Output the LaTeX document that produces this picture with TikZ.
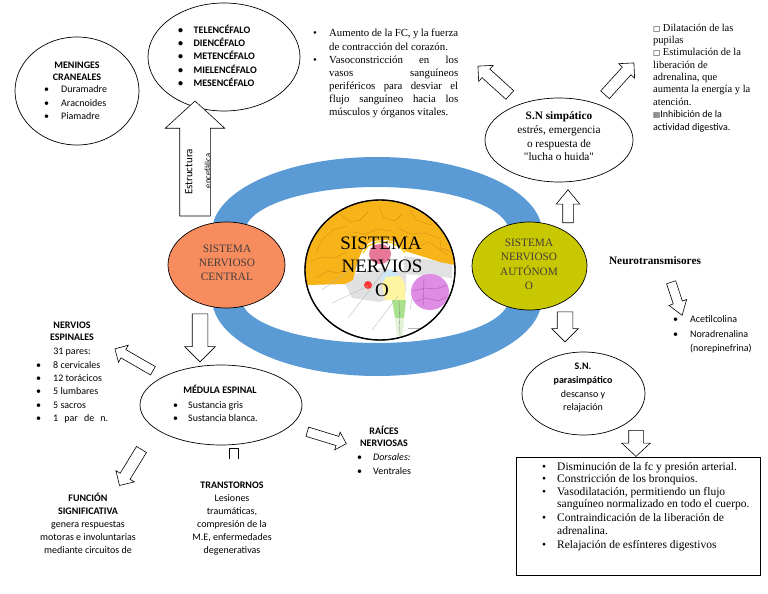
\documentclass[tikz,border=0pt]{standalone}
\usepackage{fontspec}
\setmainfont{Liberation Serif}
\newfontfamily\carl{Carlito}
\newfontfamily\dejav{DejaVu Sans}
\newfontfamily\serq{Liberation Serif}[Ligatures=TeXOff]
\usetikzlibrary{shapes.geometric,shapes.arrows}
\definecolor{ringblue}{RGB}{91,155,213}
\definecolor{sncfill}{RGB}{247,140,95}
\definecolor{snafill}{RGB}{200,200,0}
\definecolor{brainor}{RGB}{247,180,25}
\definecolor{sulc}{RGB}{222,140,20}
\definecolor{cereb}{RGB}{222,140,228}
\definecolor{cerebdk}{RGB}{170,80,180}
\definecolor{thal}{RGB}{232,118,150}
\definecolor{ovaltext}{RGB}{70,60,60}
\definecolor{palegray}{RGB}{225,225,225}
\definecolor{paleblue}{RGB}{205,230,248}
\definecolor{paleyellow}{RGB}{255,245,160}
\definecolor{medgreen}{RGB}{170,225,140}
\definecolor{palegreen}{RGB}{225,242,215}
\newcommand\sqb[1]{{\dejav\fontsize{7.5}{8}\selectfont #1}}
\begin{document}
\begin{tikzpicture}[x=1pt,y=-1pt,
 oval/.style={ellipse,draw,line width=0.7pt,fill=white,inner sep=0pt},
 bar/.style n args={6}{single arrow,draw,fill=white,line width=0.6pt,inner xsep=0pt,inner ysep=#3pt,single arrow head indent=0pt,minimum height=#1pt,minimum width=#2pt,single arrow head extend=#4pt,single arrow tip angle=#5,rotate=#6},
 sans/.style={font=\carl\fontsize{10}{12}\selectfont,inner sep=0pt},
 sansb/.style={font=\carl\bfseries\fontsize{10}{12}\selectfont,inner sep=0pt},
 ser/.style={font=\fontsize{10.8}{13}\selectfont,inner sep=0pt},
 sers/.style={font=\fontsize{10.5}{12}\selectfont,inner sep=0pt},
 serm/.style={font=\fontsize{11.3}{13}\selectfont,inner sep=0pt},
 sermb/.style={font=\bfseries\fontsize{11.3}{13}\selectfont,inner sep=0pt},
 serbox/.style={font=\fontsize{11.5}{13}\selectfont,inner sep=0pt},
 big/.style={font=\fontsize{19}{23}\selectfont,inner sep=0pt},
 sulcus/.style={sulc,line width=0.4pt},
 leader/.style={gray!60,line width=0.3pt},
]
\fill[white] (0,0) rectangle (768,594);
\useasboundingbox (0,0) rectangle (768,594);

% ---- blue ring ----
\fill[ringblue] (212,232) .. controls (212,190.6) and (285.9,157) .. (377,157)
  .. controls (468.1,157) and (542,190.6) .. (542,232) -- (509,232)
  .. controls (509,207.1) and (449.9,187) .. (377,187)
  .. controls (304.1,187) and (245,207.1) .. (245,232) -- cycle;
\fill[ringblue] (212,298) .. controls (212,341.1) and (285.9,376) .. (377,376)
  .. controls (468.1,376) and (542,341.1) .. (542,298) -- (509,298)
  .. controls (509,322.9) and (452.1,343) .. (377,343)
  .. controls (301.9,343) and (241,322.9) .. (241,298) -- cycle;

% ---- ovals ----
\node[oval,minimum width=124pt,minimum height=108pt] (men) at (77,91) {};
\node[oval,minimum width=152pt,minimum height=108pt] (enc) at (224,57) {};
\node[oval,minimum width=148pt,minimum height=84pt] (simp) at (559,140) {};
\node[oval,minimum width=123pt,minimum height=83pt] (para) at (583.5,393.5) {};
\node[oval,minimum width=162pt,minimum height=80pt] (med) at (221,405) {};
\node[oval,fill=sncfill,minimum width=117pt,minimum height=86pt] (snc) at (226.5,265) {};
\node[oval,fill=snafill,minimum width=115pt,minimum height=88pt] (sna) at (529.5,266) {};
\node[draw,line width=0.7pt,minimum width=244pt,minimum height=118pt,anchor=north west,inner sep=0pt] (box) at (516,457) {};
\node[oval,minimum width=150pt,minimum height=140pt] (snbg) at (380,270) {};

% ---- brain picture (kept inside the circle) ----
\fill[palegray] (345,284) -- (352,298) -- (380,302) -- (406,293) -- (406,272) -- (380,268) -- (355,274) -- cycle;
\fill[palegray] (404,256) -- (452,263) -- (452,278) -- (404,274) -- cycle;
\fill[thal] (380,254) ellipse [x radius=11pt,y radius=10pt];
\fill[red!70!pink] (368,285) circle [radius=4pt];
\fill[paleblue] (390,277) ellipse [x radius=9pt,y radius=7pt];
\fill[paleyellow] (382,284) -- (386,277) -- (400,276) -- (405,284) -- (405,300) -- (385,300) -- cycle;
\fill[medgreen] (392,300) -- (406,300) -- (404,318) -- (395,318) -- cycle;
\fill[palegreen] (395,318) -- (404,318) -- (403,336) -- (397,336) -- cycle;
\draw[gray,line width=0.3pt] (399,300) -- (400,336);
\fill[cereb] (430,292) ellipse [x radius=19pt,y radius=18pt];
\draw[cerebdk,line width=0.35pt] (424,278) -- (423,306);
\draw[cerebdk,line width=0.35pt] (414,291) -- (425,288) -- (436,289) -- (447,285);
\draw[cerebdk,line width=0.35pt] (416,301) -- (426,298) -- (438,301) -- (446,297);
\fill[brainor] (306.7,285) -- (305,270) -- (307.6,251.9) -- (315,235) -- (327,220.5) -- (342.5,209.4)
  -- (360.6,202.4) -- (380,200) -- (399.4,202.4) -- (417.5,209.4) -- (433,220.5) -- (445,235)
  -- (452.4,251.9) -- (454.8,265) -- (440,262) -- (405,251) -- (397,243) -- (388,240) -- (372,241)
  -- (364,247) -- (358,260) -- (353,280) -- (345,284) -- cycle;
\draw[yellow!60!orange,line width=1.2pt] (363,253) -- (368,246) -- (377,242) -- (390,242) -- (400,247) -- (405,253);
\draw[sulcus] (316,252) -- (322,240) -- (333,230) -- (346,226);
\draw[sulcus] (340,214) -- (350,222) -- (360,220) -- (368,212);
\draw[sulcus] (378,206) -- (384,218) -- (395,221) -- (402,214);
\draw[sulcus] (410,210) -- (416,220) -- (430,225) -- (438,222);
\draw[sulcus] (440,240) -- (441,248) -- (452,252);
\draw[sulcus] (310,262) -- (322,257) -- (335,258) -- (346,252);
\draw[sulcus] (352,232) -- (365,234) -- (378,229) -- (392,231);
\draw[sulcus] (398,228) -- (410,234) -- (425,233) -- (440,239);
\draw[sulcus] (316,278) -- (328,271) -- (338,273) -- (346,268);
\draw[sulcus] (416,248) -- (428,242) -- (438,248) -- (448,255);
\draw[leader] (322,290) -- (360,262);
\draw[leader] (332,303) -- (368,286);
\draw[leader] (348,318) -- (385,270);
\draw[leader] (372,330) -- (398,296);
\draw[leader] (408,328) -- (420,328);
\draw[leader] (410,310) -- (412,298);
\node[ellipse,draw,line width=1.4pt,minimum width=150pt,minimum height=140pt,inner sep=0pt] (sn) at (380,270) {};

% ---- block arrows ----
\node[bar={115}{59}{15}{14.5}{95}{90}] (aEnc) at (195,165.5) {};
\node[bar={43}{21}{5.5}{5}{90}{137.8}] (aS1) at (496,82.5) {};
\node[bar={43}{21}{5.5}{5}{90}{47.8}] (aS2) at (617.5,81) {};
\node[bar={33}{23}{5}{6.5}{79}{90}] (aUp) at (568,209.5) {};
\node[bar={30}{26}{7.5}{5.5}{90}{-90}] (aDn) at (565,323) {};
\node[bar={34.8}{18}{4.5}{4.5}{69}{-71.6}] (aNeu) at (675.5,295.5) {};
\node[bar={26}{28}{7}{7}{94}{-90}] (aPar) at (636,440) {};
\node[bar={48}{30}{7.5}{7.5}{90}{-90}] (aMed) at (200,334) {};
\node[bar={43.9}{19}{4.5}{5}{90}{150}] (aNer) at (136,361) {};
\node[bar={42.2}{21}{5.5}{5}{90}{-121.4}] (aFun) at (132,465) {};
\node[bar={40.8}{18}{4.5}{4.5}{90}{-17.1}] (aRai) at (324.5,437) {};
\coordinate (stubL) at (229,459);
\coordinate (stubR) at (238,459);
\draw[line width=0.6pt] (stubL) -- ++(0,-11) -| (stubR);

\begin{scope}
\clip (180.5,136) rectangle (209.6,222.5);
\node[font=\carl\fontsize{11}{12}\selectfont,inner sep=0pt,rotate=90,anchor=mid] (estr1) at (190,172) {Estructura};
\node[font=\carl\fontsize{8.5}{9}\selectfont,inner sep=0pt,rotate=90,anchor=base] (estr2) at (210.5,171) {encefálica};
\end{scope}

% ---- texts: meninges ----
\node[sansb,anchor=mid] (menT1) at (77,66) {MENINGES};
\node[sansb,anchor=mid] (menT2) at (77,78) {CRANEALES};
\node[sans,anchor=mid west] (menL1) at (44,90.5) {\makebox[17pt][l]{\textbullet}Duramadre};
\node[sans,anchor=mid west] (menL2) at (44,104) {\makebox[17pt][l]{\textbullet}Aracnoides};
\node[sans,anchor=mid west] (menL3) at (44,117.5) {\makebox[17pt][l]{\textbullet}Piamadre};

% ---- encefalo ----
\node[sansb,anchor=mid west] (encL1) at (178,31) {\makebox[15.5pt][l]{\textbullet}TELENCÉFALO};
\node[sansb,anchor=mid west] (encL2) at (178,44.3) {\makebox[15.5pt][l]{\textbullet}DIENCÉFALO};
\node[sansb,anchor=mid west] (encL3) at (178,57.6) {\makebox[15.5pt][l]{\textbullet}METENCÉFALO};
\node[sansb,anchor=mid west] (encL4) at (178,70.9) {\makebox[15.5pt][l]{\textbullet}MIELENCÉFALO};
\node[sansb,anchor=mid west] (encL5) at (178,84.2) {\makebox[15.5pt][l]{\textbullet}MESENCÉFALO};

% ---- top middle ----
\node[ser,anchor=mid west] (tm1) at (313,34) {\makebox[16pt][l]{\textbullet}\makebox[129pt][s]{Aumento de la FC, y la fuerza}};
\node[ser,anchor=mid west] (tm2) at (329,48) {de contracción del corazón.};
\node[ser,anchor=mid west] (tm3) at (313,61) {\makebox[16pt][l]{\textbullet}\makebox[129pt][s]{Vasoconstricción en los}};
\node[ser,anchor=mid west] (tm4) at (329,74) {\makebox[129pt][s]{vasos sanguíneos}};
\node[ser,anchor=mid west] (tm5) at (329,87) {\makebox[129pt][s]{periféricos para desviar el}};
\node[ser,anchor=mid west] (tm6) at (329,100) {\makebox[129pt][s]{flujo sanguíneo hacia los}};
\node[ser,anchor=mid west] (tm7) at (329,113) {músculos y órganos vitales.};

% ---- top right ----
\node[sers,anchor=mid west] (tr1) at (653,29) {\sqb{□} Dilatación de las};
\node[sers,anchor=mid west] (tr2) at (653,41) {pupilas};
\node[sers,anchor=mid west] (tr3) at (653,53.5) {\sqb{□} Estimulación de la};
\node[sers,anchor=mid west] (tr4) at (653,66) {liberación de};
\node[sers,anchor=mid west] (tr5) at (653,78) {adrenalina, que};
\node[sers,anchor=mid west] (tr6) at (653,90.5) {aumenta la energía y la};
\node[sers,anchor=mid west] (tr7) at (653,103) {atención.};
\node[sans,anchor=mid west] (tr8) at (653,115.5) {\sqb{▤}Inhibición de la};
\node[sans,anchor=mid west] (tr9) at (653,128.5) {actividad digestiva.};

% ---- simpatico ----
\node[sermb,anchor=mid] (sim1) at (559,117) {S.N simpático};
\node[serm,anchor=mid] (sim2) at (559,131) {estrés, emergencia};
\node[serm,anchor=mid] (sim3) at (559,145) {o respuesta de};
\node[font=\serq\fontsize{11.3}{13}\selectfont,inner sep=0pt,anchor=mid] (sim4) at (559,158) {"lucha o huida"};

% ---- SNC / SNA / center ----
\node[serm,text=ovaltext,anchor=mid] (snc1) at (227,250) {SISTEMA};
\node[serm,text=ovaltext,anchor=mid] (snc2) at (227,264) {NERVIOSO};
\node[serm,text=ovaltext,anchor=mid] (snc3) at (227,278) {CENTRAL};
\node[serm,text=ovaltext,anchor=mid] (sna1) at (529,244) {SISTEMA};
\node[serm,text=ovaltext,anchor=mid] (sna2) at (529,258.7) {NERVIOSO};
\node[serm,text=ovaltext,anchor=mid] (sna3) at (529,273) {AUTÓNOM};
\node[serm,text=ovaltext,anchor=mid] (sna4) at (529,287.7) {O};
\node[big,anchor=mid] (sn1) at (381,247) {SISTEMA};
\node[big,anchor=mid] (sn2) at (382,270) {NERVIOS};
\node[big,anchor=mid] (sn3) at (382,294) {O};

% ---- neurotransmisores ----
\node[sermb,anchor=mid] (neu) at (655,262) {Neurotransmisores};
\node[sans,anchor=mid west] (neu1) at (673,320) {\makebox[17pt][l]{\textbullet}Acetilcolina};
\node[sans,anchor=mid west] (neu2) at (673,335) {\makebox[17pt][l]{\textbullet}Noradrenalina};
\node[sans,anchor=mid west] (neu3) at (690,349) {(norepinefrina)};

% ---- parasimpatico ----
\node[sansb,anchor=mid] (par1) at (583,367) {S.N.};
\node[sansb,anchor=mid] (par2) at (583,381) {parasimpático};
\node[sans,anchor=mid] (par3) at (583,395) {descanso y};
\node[sans,anchor=mid] (par4) at (583,408) {relajación};

% ---- box ----
\node[serbox,anchor=mid west] (bx1) at (542,468) {\makebox[15pt][l]{\textbullet}Disminución de la fc y presión arterial.};
\node[serbox,anchor=mid west] (bx2) at (542,480.5) {\makebox[15pt][l]{\textbullet}Constricción de los bronquios.};
\node[serbox,anchor=mid west] (bx3) at (542,493) {\makebox[15pt][l]{\textbullet}Vasodilatación, permitiendo un flujo};
\node[serbox,anchor=mid west] (bx4) at (557,505.5) {sanguíneo normalizado en todo el cuerpo.};
\node[serbox,anchor=mid west] (bx5) at (542,519) {\makebox[15pt][l]{\textbullet}Contraindicación de la liberación de};
\node[serbox,anchor=mid west] (bx6) at (557,532) {adrenalina.};
\node[serbox,anchor=mid west] (bx7) at (542,546) {\makebox[15pt][l]{\textbullet}Relajación de esfínteres digestivos};

% ---- medula ----
\node[sansb,anchor=mid] (med1) at (220,391) {MÉDULA ESPINAL};
\node[sans,anchor=mid west] (med2) at (173,406) {\makebox[15pt][l]{\textbullet}Sustancia gris};
\node[sans,anchor=mid west] (med3) at (173,419) {\makebox[15pt][l]{\textbullet}Sustancia blanca.};

% ---- nervios espinales ----
\node[sansb,anchor=mid] (ne1) at (72,326) {NERVIOS};
\node[sansb,anchor=mid] (ne2) at (72,338) {ESPINALES};
\node[sans,anchor=mid] (ne3) at (72,352) {31 pares:};
\node[sans,anchor=mid west] (ne4) at (36,366) {\makebox[17pt][l]{\textbullet}8 cervicales};
\node[sans,anchor=mid west] (ne5) at (36,379) {\makebox[17pt][l]{\textbullet}12 torácicos};
\node[sans,anchor=mid west] (ne6) at (36,392) {\makebox[17pt][l]{\textbullet}5 lumbares};
\node[sans,anchor=mid west] (ne7) at (36,406) {\makebox[17pt][l]{\textbullet}5 sacros};
\node[sans,anchor=mid west] (ne8) at (36,419) {\makebox[17pt][l]{\textbullet}\makebox[55pt][s]{1 par de n.}};

% ---- funcion ----
\node[sansb,anchor=mid] (fu1) at (88,499) {FUNCIÓN};
\node[sansb,anchor=mid] (fu2) at (88,512) {SIGNIFICATIVA};
\node[sans,anchor=mid] (fu3) at (88,525) {genera respuestas};
\node[sans,anchor=mid] (fu4) at (88,538) {motoras e involuntarias};
\node[sans,anchor=mid] (fu5) at (88,551) {mediante circuitos de};

% ---- transtornos ----
\node[sansb,anchor=mid] (tra1) at (232,486) {TRANSTORNOS};
\node[sans,anchor=mid] (tra2) at (232,499) {Lesiones};
\node[sans,anchor=mid] (tra3) at (232,512) {traumáticas,};
\node[sans,anchor=mid] (tra4) at (232,525) {compresión de la};
\node[sans,anchor=mid] (tra5) at (232,538) {M.E, enfermedades};
\node[sans,anchor=mid] (tra6) at (232,551) {degenerativas};

% ---- raices ----
\node[sansb,anchor=mid] (ra1) at (384,432) {RAÍCES};
\node[sansb,anchor=mid] (ra2) at (384,444.5) {NERVIOSAS};
\node[sans,anchor=mid west] (ra3) at (357,458) {\makebox[16pt][l]{\textbullet}\textit{Dorsales:}};
\node[sans,anchor=mid west] (ra4) at (357,472) {\makebox[16pt][l]{\textbullet}Ventrales};
\end{tikzpicture}
\end{document}
